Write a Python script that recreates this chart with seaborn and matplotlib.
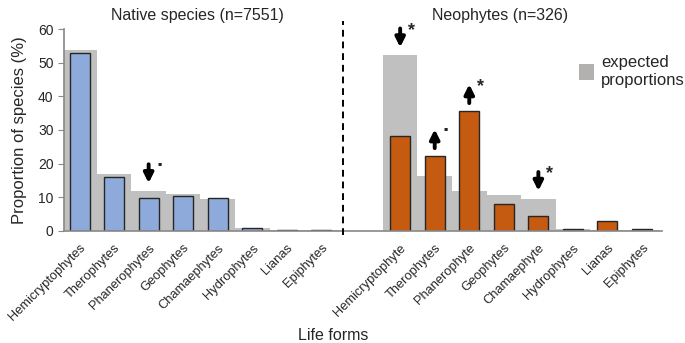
import numpy as np
import pandas as pd
import matplotlib
matplotlib.use('Agg')
import matplotlib.pyplot as plt
import seaborn as sns
from matplotlib.patches import Patch

# Life form categories (tick labels differ slightly between the two panels)
native_labels = ['Hemicryptophytes', 'Therophytes', 'Phanerophytes', 'Geophytes',
                 'Chamaephytes', 'Hydrophytes', 'Lianas', 'Epiphytes']
neo_labels = ['Hemicryptophyte', 'Therophytes', 'Phanerophyte', 'Geophytes',
              'Chamaephyte', 'Hydrophytes', 'Lianas', 'Epiphytes']

# Observed proportions (%)
native_obs = [53.0, 15.9, 9.8, 10.3, 9.8, 0.9, 0.3, 0.3]
neo_obs = [28.3, 22.3, 35.7, 8.1, 4.5, 0.5, 2.8, 0.5]

# Expected proportions (%)
native_exp = [53.8, 16.9, 11.9, 10.9, 9.4, 0.8, 0.2, 0.2]
neo_exp = [52.3, 16.3, 11.9, 10.6, 9.6, 0.5, 0.2, 0.2]

# significance marks: (category index, direction, symbol)
native_marks = [(2, 'down', '\u00b7')]
neo_marks = [(0, 'down', '*'), (1, 'up', '\u00b7'), (2, 'up', '*'), (4, 'down', '*')]

NEO_OFFSET = 9.28
native_pos = np.arange(8, dtype=float)
neo_pos = native_pos + NEO_OFFSET

exp_df = pd.DataFrame({'pos': np.concatenate([native_pos, neo_pos]),
                       'value': native_exp + neo_exp})
nat_df = pd.DataFrame({'pos': native_pos, 'value': native_obs})
neo_df = pd.DataFrame({'pos': neo_pos, 'value': neo_obs})

sns.set_style('ticks')
plt.rcParams['font.family'] = ['Liberation Sans', 'DejaVu Sans']

fig = plt.figure(figsize=(6.85, 3.43), dpi=100)
ax = fig.add_axes([0.0934, 0.327, 0.8726, 0.588])

GRAY = '#c0c0c0'
BLUE = '#8eaadb'
ORANGE = '#c55a11'
EDGE = '#262626'

sns.barplot(data=exp_df, x='pos', y='value', native_scale=True, width=1.0,
            color=GRAY, saturation=1, linewidth=0, ax=ax, zorder=1)
sns.barplot(data=nat_df, x='pos', y='value', native_scale=True, width=0.58,
            color=BLUE, saturation=1, edgecolor=EDGE, linewidth=1, ax=ax, zorder=2)
sns.barplot(data=neo_df, x='pos', y='value', native_scale=True, width=0.58,
            color=ORANGE, saturation=1, edgecolor=EDGE, linewidth=1, ax=ax, zorder=2)

# arrows with significance marks
def draw_marks(marks, pos, obs, exp):
    for i, direction, sym in marks:
        x = pos[i]
        base = max(obs[i], exp[i]) + 2.3
        if direction == 'down':
            ax.annotate('', xy=(x, base), xytext=(x, base + 5.6),
                        arrowprops=dict(arrowstyle='-|>', lw=2.8, color='black',
                                        mutation_scale=14, shrinkA=0, shrinkB=0))
        else:
            ax.annotate('', xy=(x, base + 5.6), xytext=(x, base),
                        arrowprops=dict(arrowstyle='-|>', lw=2.8, color='black',
                                        mutation_scale=14, shrinkA=0, shrinkB=0))
        fs = 13 if sym == '*' else 16
        ax.text(x + 0.22, base + 5.0, sym, fontsize=fs, fontweight='bold',
                ha='left', va='center')

draw_marks(native_marks, native_pos, native_obs, native_exp)
draw_marks(neo_marks, neo_pos, neo_obs, neo_exp)

# dashed separator between the two panels
sep = 7.63
ax.plot([sep, sep], [-1.3, 62.3], ls=(0, (3.5, 2.5)), color='black', lw=1.4,
        clip_on=False, zorder=3)

ax.set_xlim(-0.45, 16.85)
ax.set_ylim(0, 60)
ax.set_yticks(range(0, 61, 10))
ax.set_xticks(np.concatenate([native_pos, neo_pos]))
ax.set_xticklabels(native_labels + neo_labels, rotation=45, ha='right',
                   rotation_mode='anchor', fontsize=9.3)
ax.tick_params(axis='x', length=0, pad=8)
ax.tick_params(axis='y', length=4, color='#888888', labelsize=10)
for side in ['top', 'right']:
    ax.spines[side].set_visible(False)
for side in ['left', 'bottom']:
    ax.spines[side].set_color('#888888')
    ax.spines[side].set_linewidth(1.2)

ax.set_xlabel('')
ax.set_ylabel('Proportion of species (%)', fontsize=12, labelpad=8)
fig.text(0.487, 0.0, 'Life forms', fontsize=11.5, ha='center', va='bottom')
fig.text(0.288, 0.978, 'Native species (n=7551)', fontsize=11.5, ha='center', va='top')
fig.text(0.730, 0.978, 'Neophytes (n=326)', fontsize=11.5, ha='center', va='top')

ax.legend(handles=[Patch(facecolor='#b3b0b0', edgecolor='none')],
          labels=['expected\nproportions'], loc='upper left',
          bbox_to_anchor=(0.862, 0.87), frameon=False, fontsize=12,
          handlelength=0.9, handleheight=1.1, handletextpad=0.4,
          borderaxespad=0, borderpad=0, labelspacing=0)

fig.savefig('out.png', dpi=100)
